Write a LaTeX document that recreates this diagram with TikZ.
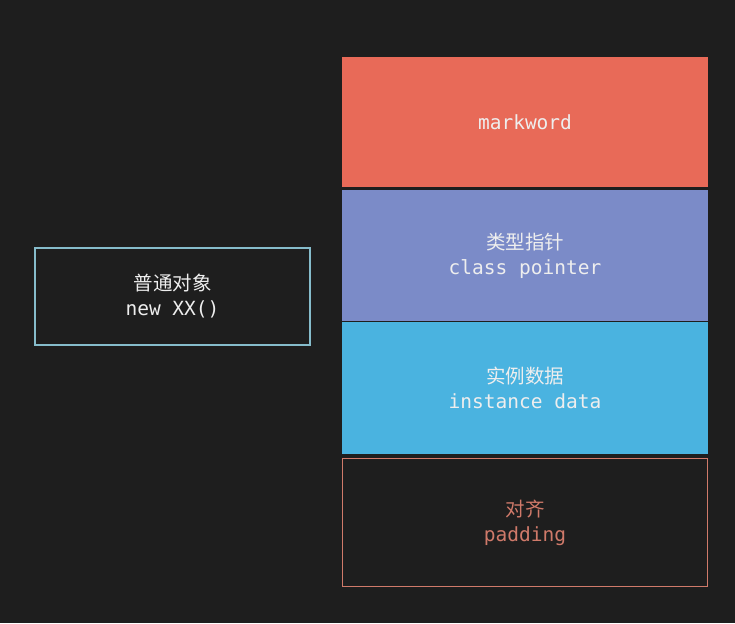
\documentclass[tikz,border=0pt]{standalone}
\usepackage{fontspec}
\setmonofont{DejaVu Sans Mono}
\newfontfamily\cjk{Noto Sans CJK SC}
\definecolor{board}{HTML}{1E1E1E}
\definecolor{markred}{HTML}{E86A58}
\definecolor{ptrblue}{HTML}{7B8BC8}
\definecolor{datacyan}{HTML}{4AB3E0}
\definecolor{objline}{HTML}{86BCCB}
\definecolor{padline}{HTML}{D07A6A}
\definecolor{chalk}{HTML}{EEEEEE}
\begin{document}
\begin{tikzpicture}[x=1pt,y=-1pt]
\fill[board] (0,0) rectangle (735,623);
\useasboundingbox (0,0) rectangle (735,623);
\begin{scope}[every node/.style = {rectangle, align=center, inner sep=0pt,
    text=chalk, font=\ttfamily\fontsize{19.5}{25}\selectfont}]
\node[draw=objline, line width=1.2pt, minimum width=275pt, minimum height=97pt] (obj) at (172.5, 296.5) {{\cjk 普通对象}\\new XX()};
\node[fill=markred, minimum width=366pt, minimum height=130pt] (mark) at (525, 122) {markword};
\node[fill=ptrblue, minimum width=366pt, minimum height=131pt] (ptr) at (525, 255.5) {{\cjk 类型指针}\\class pointer};
\node[fill=datacyan, minimum width=366pt, minimum height=132pt] (data) at (525, 388) {{\cjk 实例数据}\\instance data};
\node[draw=padline, line width=1.2pt, text=padline, minimum width=365pt, minimum height=128pt] (pad) at (525, 522.5) {{\cjk 对齐}\\padding};
\end{scope}
\end{tikzpicture}
\end{document}
